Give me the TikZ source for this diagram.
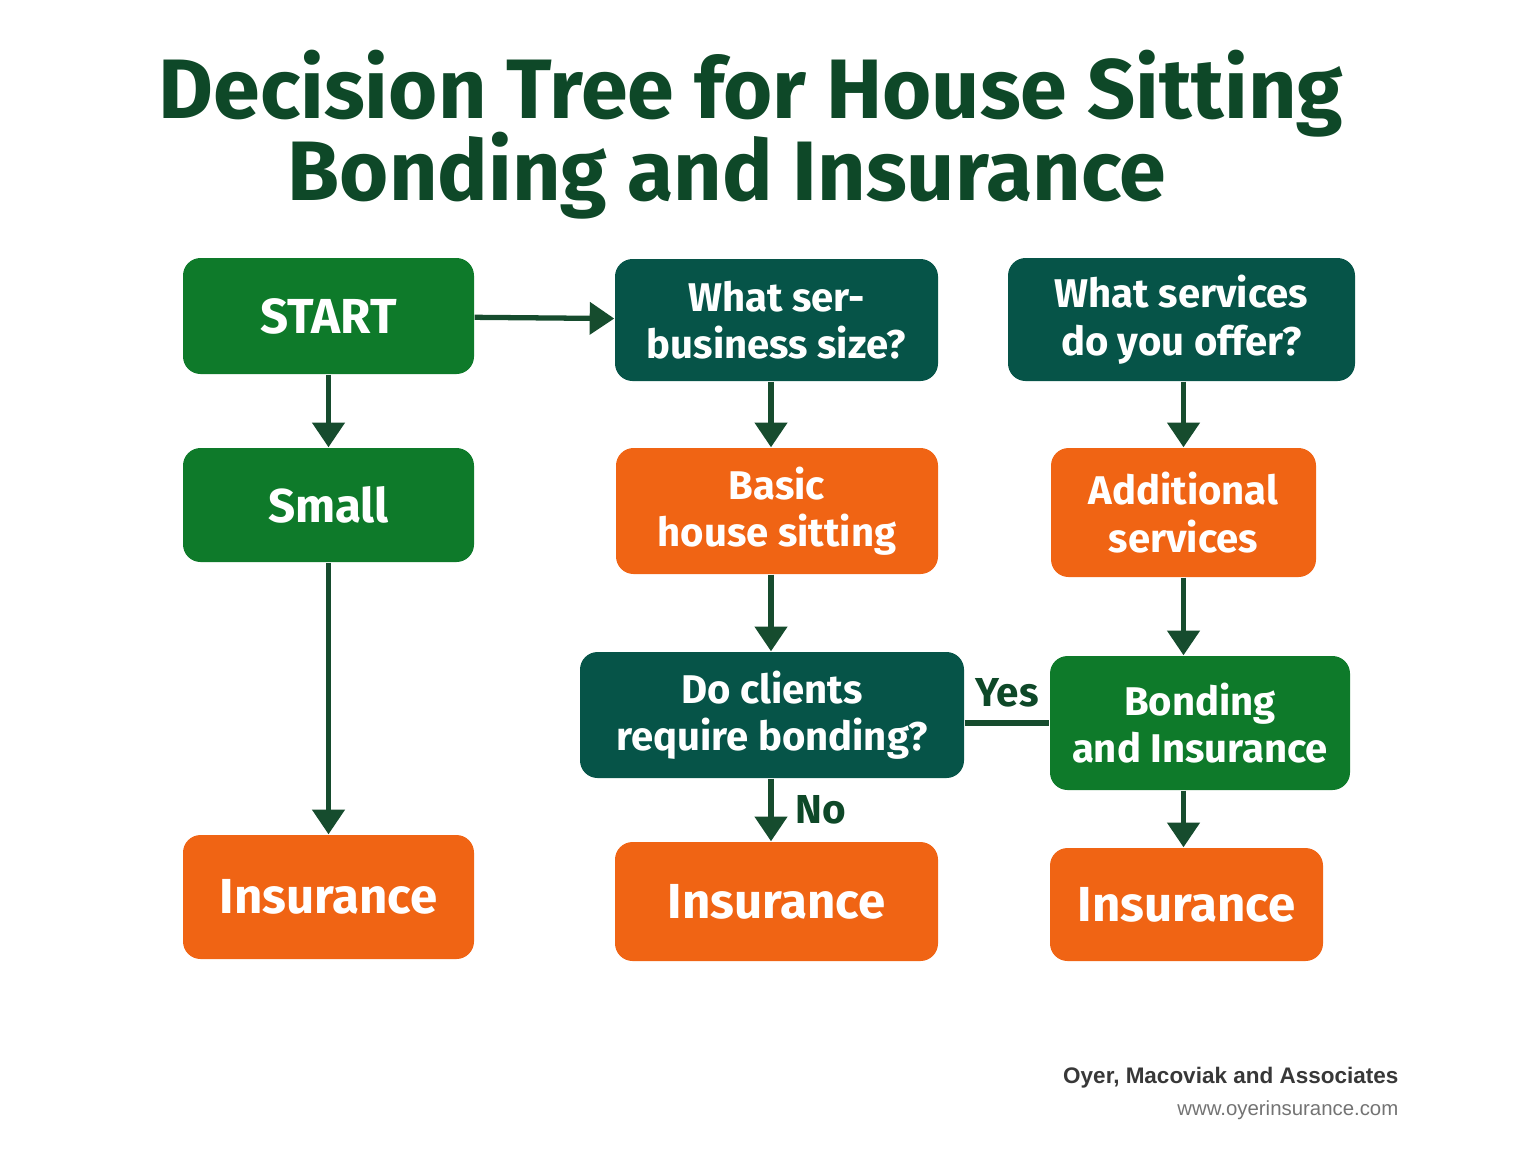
\documentclass[tikz,border=0pt]{standalone}
\usepackage{fontspec}
\setmainfont{Fira Sans}
\newfontfamily\footfont{Liberation Sans}
\usetikzlibrary{arrows.meta}
\definecolor{treegreen}{RGB}{14,122,42}
\definecolor{treeteal}{RGB}{6,84,72}
\definecolor{treeorange}{RGB}{240,100,20}
\definecolor{titlegreen}{RGB}{14,72,40}
\definecolor{arrowgreen}{RGB}{22,76,46}
\tikzset{
  bxG/.style={fill=treegreen, text=white, rounded corners=5pt,
              minimum width=#1, align=center, inner sep=0pt,
              font=\fontsize{11.4}{13.5}\selectfont\bfseries},
  bxT/.style={fill=treeteal, text=white, rounded corners=5pt,
              minimum width=#1, align=center, inner sep=0pt,
              font=\fontsize{11.4}{13.5}\selectfont\bfseries},
  bxO/.style={fill=treeorange, text=white, rounded corners=5pt,
              minimum width=#1, align=center, inner sep=0pt,
              font=\fontsize{11.4}{13.5}\selectfont\bfseries},
  big/.style={font=\fontsize{14}{16}\selectfont\bfseries},
  arr/.style={-{Triangle[length=7pt, width=9pt]}, draw=arrowgreen, line width=1.5pt},
  lbl/.style={text=titlegreen, font=\fontsize{11.5}{13}\selectfont\bfseries},
  ttl/.style={text=titlegreen, anchor=base, font=\fontsize{24}{28}\selectfont\bfseries},
}

\begin{document}
\begin{tikzpicture}
  \useasboundingbox (0,0) rectangle (15.36,-11.54);

  % title
  \node[ttl] (title1) at (7.51,-1.18) {Decision Tree for House Sitting};
  \node[ttl] (title2) at (7.27,-2.00) {Bonding and Insurance};

  % left column
  \node[bxG=2.91cm, minimum height=1.16cm, big] (start) at (3.285,-3.16) {START};
  \node[bxG=2.91cm, minimum height=1.14cm, big, font=\fontsize{13.5}{16}\selectfont\bfseries] (small) at (3.285,-5.05) {Small};
  \node[bxO=2.91cm, minimum height=1.24cm, big] (ins1) at (3.285,-8.97) {Insurance};

  % middle column
  \node[bxT=3.23cm, minimum height=1.22cm] (size)  at (7.765,-3.20) {What ser-\\business size?};
  \node[bxO=3.22cm, minimum height=1.26cm] (basic) at (7.77,-5.11) {Basic\\house sitting};
  \node[bxT=3.84cm, minimum height=1.26cm] (bond)  at (7.72,-7.15) {Do clients\\require bonding?};
  \node[bxO=3.23cm, minimum height=1.19cm, big] (ins2) at (7.765,-9.015) {Insurance};

  % right column
  \node[bxT=3.47cm, minimum height=1.23cm] (offer) at (11.815,-3.195) {What services\\do you offer?};
  \node[bxO=2.65cm, minimum height=1.29cm] (extra) at (11.835,-5.125) {Additional\\services};
  \node[bxG=3.00cm, minimum height=1.34cm] (bi) at (12.00,-7.23) {Bonding\\and Insurance};
  \node[bxO=2.73cm, minimum height=1.13cm, big] (ins3) at (11.865,-9.045) {Insurance};

  % connectors
  \draw[arr] (start) -- (size);
  \draw[arr] (start.south) -- (small.north);
  \draw[arr] (small.south) -- (ins1.north);
  \draw[arr] (bond.south -| 7.71,0) coordinate (x) (size.south -| x) -- (basic.north -| x);
  \draw[arr] (basic.south -| x) -- (bond.north -| x);
  \draw[arr] (bond.south -| x) -- node[lbl, right=3pt] {No} (ins2.north -| x);
  \draw[draw=arrowgreen, line width=1.5pt] (bond.east |- bi.west) -- node[lbl, above=0.5pt] {Yes} (bi.west);
  \draw[arr] (offer.south -| extra) -- (extra.north);
  \draw[arr] (extra.south) -- (bi.north -| extra.south);
  \draw[arr] (bi.south -| extra.south) -- (ins3.north -| extra.south);

  % footer
  \node[anchor=east, inner sep=0pt, text=black!78, font=\footfont\fontsize{6.4}{8}\selectfont\bfseries] (firm) at (13.99,-10.78) {Oyer, Macoviak and Associates};
  \node[anchor=east, inner sep=0pt, text=black!55, font=\footfont\fontsize{5.8}{7}\selectfont] (web) at (13.99,-11.10) {www.oyerinsurance.com};
\end{tikzpicture}
\end{document}
